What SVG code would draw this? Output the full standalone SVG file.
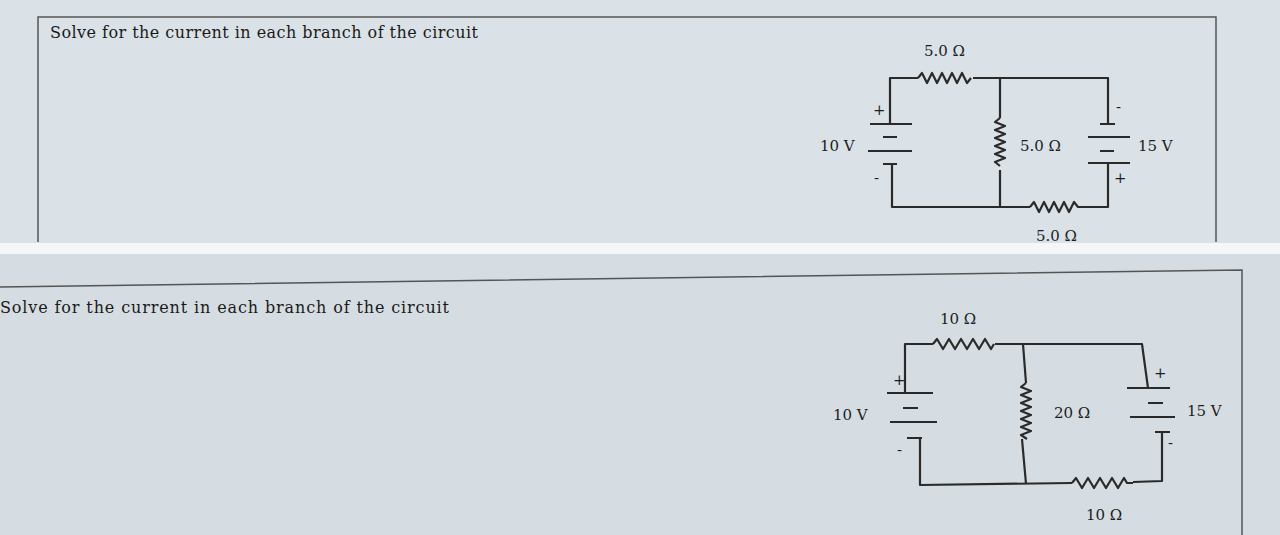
<svg xmlns="http://www.w3.org/2000/svg" width="1280" height="535" viewBox="0 0 1280 535">
<style>
.w{fill:none;stroke:#2a2a2a;stroke-width:2.2;stroke-linejoin:round}
.t{font-family:"DejaVu Serif","Liberation Serif",serif;fill:#1e1e1e;font-size:15px}
.h{font-family:"DejaVu Serif","Liberation Serif",serif;fill:#1a1a1a;font-size:16px}
.b{fill:none;stroke:#555;stroke-width:1.5}
</style>
<rect width="1280" height="535" fill="#d6dde2"/>
<rect x="0" y="0" width="1280" height="243" fill="#dbe2e7"/>
<rect x="0" y="243" width="1280" height="11" fill="#f4f6f7"/>
<g id="panel1">
<path class="b" d="M38 242 V17 H1216 V242"/>
<text class="h" x="50" y="38" textLength="428">Solve for the current in each branch of the circuit</text>
</g>
<g id="panel2">
<path class="b" d="M0 287 L1242 270 V535"/>
<text class="h" x="0" y="313" textLength="449">Solve for the current in each branch of the circuit</text>
</g>
<g id="connectors1">
<path class="w" d="M918 78 H890 V124 M973 78 H1108 V124 M892 164 V207 H1030 M1083 207 H1108 V163 M1000 78 V118 M1000 170 V207"/>
<path class="w" d="M918 78 l4 -5 l5 10 l5 -10 l5 10 l5 -10 l5 10 l5 -10 l5 10 l5 -10 l5 10 l4 -5 M1000 118 l-5 4 l10 4 l-10 4 l10 4 l-10 4 l10 4 l-10 4 l10 4 l-10 4 l10 4 l-10 4 l5 4 M1030 207 l4 -5 l5 10 l5 -10 l5 10 l5 -10 l5 10 l5 -10 l5 10 l5 -10 l4 5 H1083"/>
</g>
<g id="battery10a"><path class="w" d="M870 124 H912 M883 137 H897 M868 151 H912 M883 164 H897"/></g>
<g id="battery15a"><path class="w" d="M1100 124 H1115 M1088 137 H1130 M1100 151 H1114 M1088 163 H1130"/></g>
<g id="labels1">
<text class="t" x="924" y="56">5.0 Ω</text>
<text class="t" x="820" y="151">10 V</text>
<text class="t" x="1020" y="151">5.0 Ω</text>
<text class="t" x="1138" y="151">15 V</text>
<text class="t" x="1036" y="241">5.0 Ω</text>
<text class="t" x="873" y="115" font-size="12">+</text>
<text class="t" x="874" y="183" font-size="12">-</text>
<text class="t" x="1116" y="112" font-size="12">-</text>
<text class="t" x="1114" y="183" font-size="12">+</text>
</g>
<g id="connectors2">
<path class="w" d="M933 344 H905 V393 M995 344 H1142 L1148 388 M920 438 V485 L1072 483 M1133 482 L1162 481 V432 M1023 344 L1026 383 M1022 439 L1026 484"/>
<path class="w" d="M933 344 l4 -5 l6 10 l6 -10 l6 10 l6 -10 l6 10 l6 -10 l6 10 l6 -10 l6 10 l3 -5 M1026 383 l-5 4 l10 4 l-10 4 l10 4 l-10 4 l10 4 l-10 4 l10 4 l-10 4 l10 4 l-10 4 l10 4 l-10 4 l6 4 M1072 483 l4 -5 l6 10 l6 -10 l6 10 l6 -10 l6 10 l6 -10 l6 10 l6 -10 l3 5 H1133"/>
</g>
<g id="battery10b"><path class="w" d="M887 393 H933 M903 408 H918 M890 422 H937 M907 438 H922"/></g>
<g id="battery15b"><path class="w" d="M1127 388 H1170 M1148 403 H1163 M1130 417 H1175 M1155 432 H1170"/></g>
<g id="labels2">
<text class="t" x="940" y="324">10 Ω</text>
<text class="t" x="833" y="420">10 V</text>
<text class="t" x="1054" y="418">20 Ω</text>
<text class="t" x="1187" y="416">15 V</text>
<text class="t" x="1086" y="520">10 Ω</text>
<text class="t" x="893" y="385" font-size="12">+</text>
<text class="t" x="897" y="455" font-size="12">-</text>
<text class="t" x="1154" y="378" font-size="12">+</text>
<text class="t" x="1168" y="448" font-size="12">-</text>
</g>
</svg>
